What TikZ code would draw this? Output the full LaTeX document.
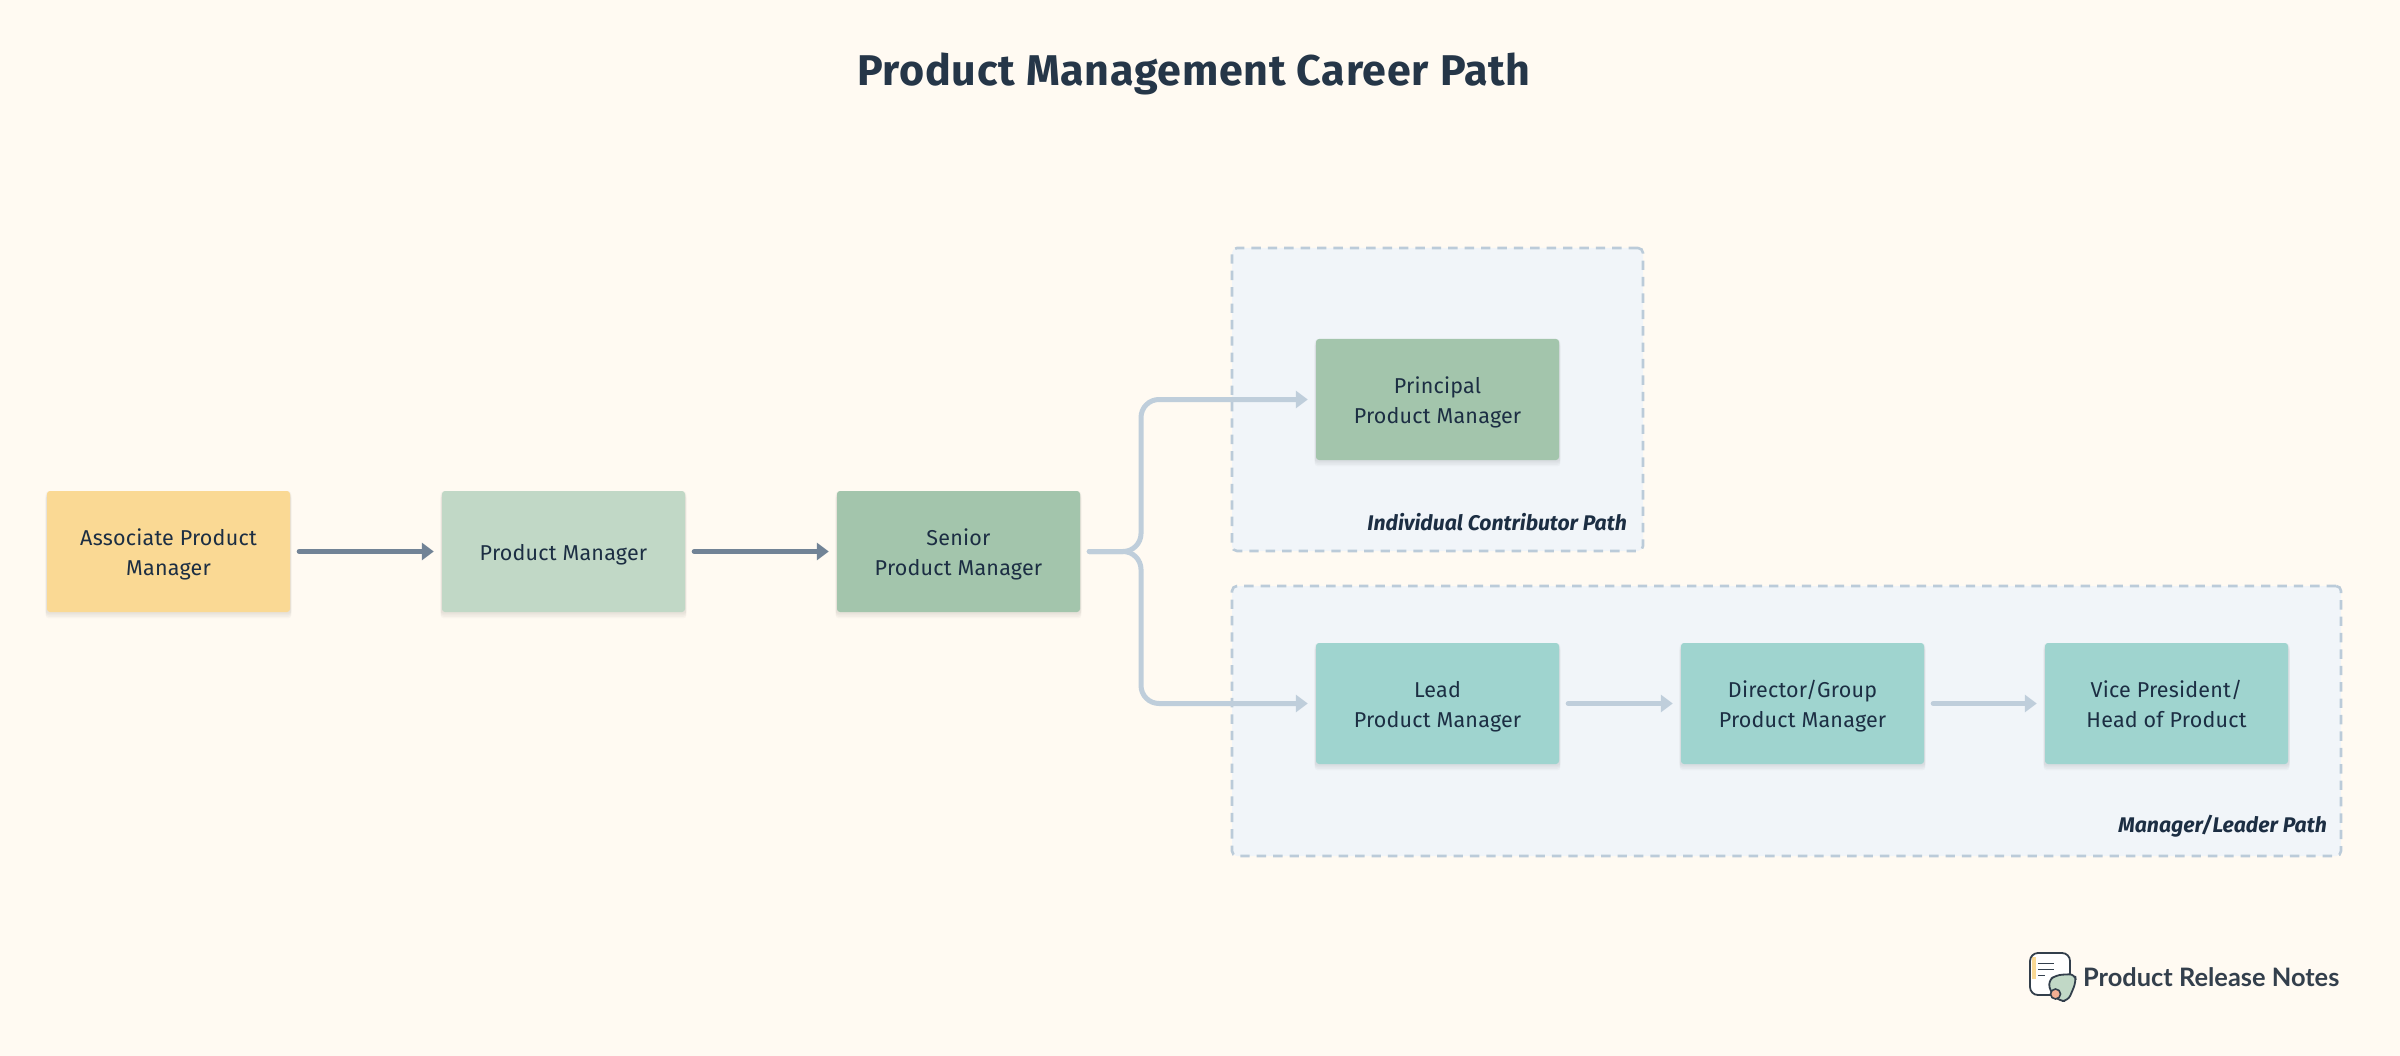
\documentclass[tikz,border=0pt]{standalone}
\usepackage{fontspec}
\setmainfont{Fira Sans}
\newfontfamily\logofont{Lato}
\usetikzlibrary{arrows.meta,shadows,positioning}
\definecolor{bgc}{HTML}{FFFAF2}
\definecolor{panelc}{HTML}{F1F5F9}
\definecolor{dashc}{HTML}{BBCBD9}
\definecolor{inkc}{HTML}{1C2E43}
\definecolor{titlec}{HTML}{253648}
\definecolor{darkarrow}{HTML}{718396}
\definecolor{lightarrow}{HTML}{BFCEDB}
\definecolor{yellowc}{HTML}{FAD994}
\definecolor{mintc}{HTML}{C1D8C6}
\definecolor{greenc}{HTML}{A3C5AC}
\definecolor{tealc}{HTML}{9FD4CF}
\definecolor{logoc}{HTML}{333F4C}
\definecolor{logopink}{HTML}{F2AE93}
\newcommand\liftline{\mbox{}\\[-6.5pt]}
\tikzset{
  x=1pt,y=-1pt,
  softshade/.style={general shadow={shadow xshift=0pt,shadow yshift=-#1,shadow scale=1.012,opacity=.025,fill=black}},
  card/.style={rectangle,rounded corners=3pt,minimum width=243pt,minimum height=121pt,inner sep=0pt,
    text=inkc,align=center,font=\fontsize{21.5}{30.5}\selectfont\addfontfeatures{LetterSpace=1},
    execute at begin node={\rule{0pt}{24pt}},execute at end node={\rule[-6pt]{0pt}{6pt}},
    softshade=1pt,softshade=2.5pt,softshade=4pt,softshade=5.5pt},
  cardtwo/.style={card,execute at begin node={}},
  panel/.style={rectangle,rounded corners=5pt,draw=dashc,fill=panelc,line width=2.6pt,dash pattern=on 9.4pt off 7pt,inner sep=0pt},
  panellabel/.style={font=\fontsize{21.2}{24}\selectfont\bfseries\itshape,text=inkc,anchor=east,inner sep=0pt},
  mainarrow/.style={draw=darkarrow,line width=5pt,line cap=round,-{Triangle[length=12pt,width=17pt]},shorten <=9pt,shorten >=8pt},
  softarrow/.style={draw=lightarrow,line width=5pt,line cap=round,-{Triangle[length=12pt,width=17pt]},shorten <=9pt,shorten >=8pt},
  branch/.style={softarrow,rounded corners=18pt},
}
\begin{document}
\begin{tikzpicture}
\useasboundingbox[fill=bgc] (0,0) rectangle (2400,1056);
\node[font=\fontsize{43}{50}\selectfont\bfseries\addfontfeatures{LetterSpace=1.7},text=titlec,inner sep=0pt] (title) at (1194,74) {Product Management Career Path};

\node[panel,minimum width=411pt,minimum height=303pt] (p1) at (1437.5,399.5) {};
\node[panel,minimum width=1109pt,minimum height=270pt] (p2) at (1786.5,721) {};

\node[cardtwo,fill=yellowc] (apm) at (168.5,551.5) {\liftline Associate Product\\Manager};
\node[card,fill=mintc] (pm) at (563.5,551.5) {Product Manager};
\node[cardtwo,fill=greenc] (spm) at (958.5,551.5) {\liftline Senior\\Product Manager};
\node[cardtwo,fill=greenc] (ppm) at (1437.5,399.5) {\liftline Principal\\Product Manager};
\node[cardtwo,fill=tealc] (lpm) at (1437.5,703.5) {\liftline Lead\\Product Manager};
\node[cardtwo,fill=tealc] (dpm) at (1802.5,703.5) {\liftline Director/Group\\Product Manager};
\node[cardtwo,fill=tealc] (vp) at (2166.5,703.5) {\liftline Vice President/\\Head of Product};

\node[panellabel] (l1) at (1627,522) {Individual Contributor Path};
\node[panellabel] (l2) at (2327,826) {Manager/Leader Path};

\draw[mainarrow] (apm) -- (pm);
\draw[mainarrow] (pm) -- (spm);
\draw[softarrow] (lpm) -- (dpm);
\draw[softarrow] (dpm) -- (vp);
\coordinate (jm) at (1141,551.5);
\coordinate (ju) at (1141,399.5);
\coordinate (jl) at (1141,703.5);
\draw[branch] (spm.east) -- (jm) -- (ju) -- (ppm.west);
\draw[branch] (spm.east) -- (jm) -- (jl) -- (lpm.west);

% logo
\fill[white] (2030,953) [rounded corners=8pt] rectangle (2070,995);
\fill[yellowc] (2032,957) rectangle (2036,979);
\draw[logoc,line width=1.8pt,rounded corners=8pt] (2030,953) rectangle (2070,995);
\draw[logoc,line width=1.4pt] (2038,963.5) -- (2054,963.5) (2038,969.5) -- (2054,969.5) (2038,975.5) -- (2045,975.5);
\draw[logoc,line width=1.8pt,fill=mintc,rounded corners=6pt] (2048,981) -- (2056,975) -- (2075,974) -- (2076,982) -- (2068,1001) -- (2059,1001) -- (2051,993) -- cycle;
\draw[logoc,line width=1.6pt,fill=logopink] (2055.5,994) circle (5pt);
\node[font=\fontsize{25.4}{30}\selectfont\logofont\bfseries,text=logoc,anchor=west,inner sep=0pt] (logo) at (2083,977) {Product Release Notes};
\end{tikzpicture}
\end{document}
